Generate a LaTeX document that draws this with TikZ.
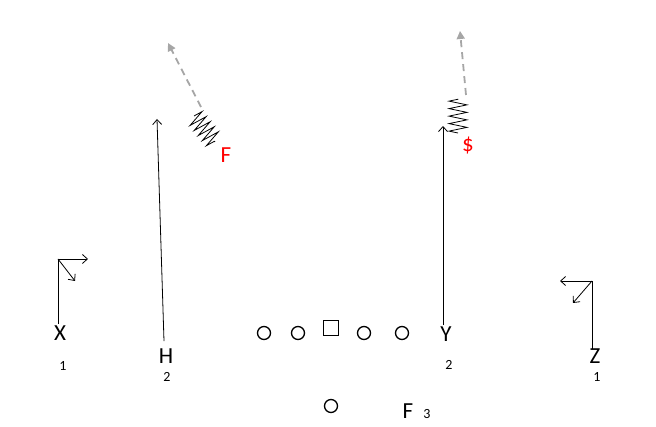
\documentclass[tikz,border=0pt]{standalone}
\usepackage{fontspec}
\setmainfont{Carlito}
\usetikzlibrary{arrows.meta,decorations.pathmorphing}
\tikzset{>={Straight Barb[length=5pt,width=9pt]}}

\begin{document}
\begin{tikzpicture}[x=1pt,y=-1pt,line width=0.8pt,
    player/.style={inner sep=1pt,font=\fontsize{23}{23}\selectfont},
    num/.style={inner sep=1pt,font=\fontsize{14}{14}\selectfont},
    lineman/.style={draw,circle,line width=1.3pt,minimum size=13pt,inner sep=0pt},
    coil/.style={decorate,decoration={zigzag,segment length=6.5pt,amplitude=9pt}},
    fake/.style={gray!70,dashed,dash pattern=on 7pt off 5pt,line width=1.8pt,-{Triangle[length=8pt,width=8pt]}}]
    \useasboundingbox (0,0) rectangle (656,427);
    % offense
    \node[player] (X) at (60,333) {X};
    \node[num] (x1) at (63,366) {1};
    \node[player] (H) at (166,356) {H};
    \node[num] (h2) at (167,377) {2};
    \node[player] (Y) at (446,334) {Y};
    \node[num] (y2) at (449,365) {2};
    \node[player] (Z) at (595,356) {Z};
    \node[num] (z1) at (597,377) {1};
    \node[player] (F) at (408,411) {F};
    \node[num] (f3) at (427,414) {3};
    \node[lineman] (LT) at (264,333) {};
    \node[lineman] (LG) at (298,333) {};
    \node[draw,line width=1.3pt,minimum size=15pt,inner sep=0pt] (C) at (331,328) {};
    \node[lineman] (RG) at (364,333) {};
    \node[lineman] (RT) at (402,333) {};
    \node[lineman] (QB) at (331,406) {};
    % defense
    \node[player,red] (Fdef) at (226,155) {F};
    \node[player,red] (S) at (468,146) {\$};
    % routes
    \coordinate (Xbrk) at (58,259);
    \coordinate (Xout) at (88,259);
    \coordinate (Xdia) at (75,281);
    \draw ([xshift=-2pt]X.north) -- (Xbrk);
    \draw[->] (Xbrk) -- (Xout);
    \draw[->] (Xbrk) -- (Xdia);
    \coordinate (Hend) at (157,119);
    \draw[->] ([shift={(-2pt,6pt)}]H.north) -- (Hend);
    \coordinate (Yend) at (443,126);
    \draw[->] ([xshift=-3pt]Y.north) -- (Yend);
    \coordinate (Zbrk) at (592,281);
    \coordinate (Zout) at (560,281);
    \coordinate (Zdia) at (573,303);
    \draw ([shift={(-3pt,-2pt)}]Z.north) -- (Zbrk);
    \draw[->] (Zbrk) -- (Zout);
    \draw[->] (Zbrk) -- (Zdia);
    % coils and bails
    \coordinate (Fc1) at (194,116);
    \coordinate (Fc2) at (215,142);
    \draw[coil] (Fc1) -- (Fc2);
    \coordinate (Fd) at (201,107);
    \coordinate (Ftip) at (168,43);
    \draw[fake] (Fd) -- (Ftip);
    \coordinate (Sc1) at (458,133);
    \coordinate (Sc2) at (458,99);
    \draw[coil,decoration={segment length=7.5pt,amplitude=9pt}] (Sc1) -- (Sc2);
    \coordinate (Sd) at (466,95);
    \coordinate (Stip) at (460,31);
    \draw[fake] (Sd) -- (Stip);
\end{tikzpicture}
\end{document}
